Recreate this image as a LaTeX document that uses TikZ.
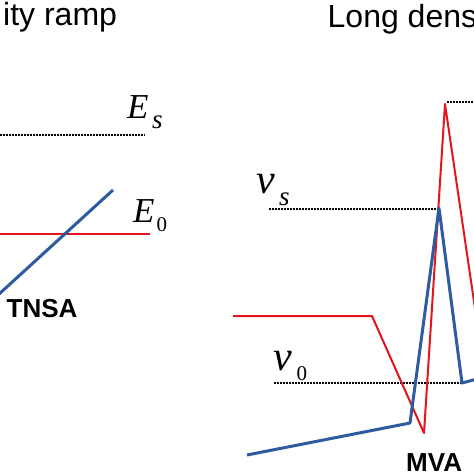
\documentclass[tikz,border=0pt]{standalone}
\usepackage{fontspec}
\setmainfont{Liberation Sans}
\newfontfamily\symserif{Liberation Serif}
\definecolor{myblue}{RGB}{46,90,160}
\definecolor{myred}{RGB}{230,20,30}
\begin{document}
\begin{tikzpicture}[x=1pt,y=-1pt,
  blueline/.style={line width=3pt, draw=myblue, line join=round},
  redline/.style={line width=2pt, draw=myred, line join=round},
  guide/.style={line width=1.5pt, draw=black, dash pattern=on 1.5pt off 1.5pt},
  title/.style={font=\fontsize{32}{32}\selectfont, anchor=base west, inner sep=0pt},
  tag/.style={font=\fontsize{26}{26}\selectfont\bfseries, anchor=base west, inner sep=0pt},
  sym/.style={font=\fontsize{35}{35}\selectfont\symserif\itshape, anchor=base west, inner sep=0pt},
  symv/.style={font=\fontsize{42}{42}\selectfont\symserif\itshape, anchor=base west, inner sep=0pt},
  subs/.style={font=\fontsize{27}{27}\selectfont\symserif\itshape, anchor=base west, inner sep=0pt},
  subz/.style={font=\fontsize{21}{21}\selectfont\symserif, anchor=base west, inner sep=0pt}]
\useasboundingbox (0,0) rectangle (474,474);
\clip (0,0) rectangle (474,474);

% titles
\node[title] (t1) at (3,25.5) {ity ramp};
\node[title] (t2) at (327.5,27) {Long dens};

% left panel
\coordinate (es1) at (0,135);
\coordinate (es2) at (145,135);
\draw[guide] (es1) -- (es2);
\node[sym] (Es) at (127,118) {E};
\node[subs] (Ess) at (152,128) {s};

\coordinate (r1) at (0,234);
\coordinate (r2) at (150,234);
\draw[redline] (r1) -- (r2);
\node[sym] (E0) at (133,222) {E};
\node[subz] (E0s) at (156.5,231) {0};

\coordinate (b1) at (-2,295);
\coordinate (b2) at (113,190);
\draw[blueline] (b1) -- (b2);
\node[tag] (tnsa) at (6.5,317) {TNSA};

% right panel guides
\coordinate (top1) at (447,102);
\coordinate (top2) at (476,102);
\draw[guide] (top1) -- (top2);
\coordinate (vs1) at (269,209);
\coordinate (vs2) at (439,209);
\draw[guide] (vs1) -- (vs2);
\coordinate (v01) at (274,383);
\coordinate (v02) at (462,383);
\draw[guide] (v01) -- (v02);

\node[symv] (vs) at (256,193) {v};
\node[subs] (vss) at (279,205) {s};
\node[symv] (v0) at (273,370) {v};
\node[subz] (v0s) at (296.5,380) {0};

% right panel curves
\coordinate (ra) at (233,316);
\coordinate (rb) at (372,316);
\coordinate (rc) at (424,433);
\coordinate (rd) at (445,104);
\coordinate (re) at (477,322);
\draw[redline] (ra) -- (rb) -- (rc) -- (rd) -- (re);

\coordinate (ba) at (247,455);
\coordinate (bb) at (410,423);
\coordinate (bc) at (439,208);
\coordinate (bd) at (462,383);
\coordinate (be) at (477,379);
\draw[blueline] (ba) -- (bb) -- (bc) -- (bd) -- (be);

\node[tag] (mva) at (406,471) {MVA};
\end{tikzpicture}
\end{document}
